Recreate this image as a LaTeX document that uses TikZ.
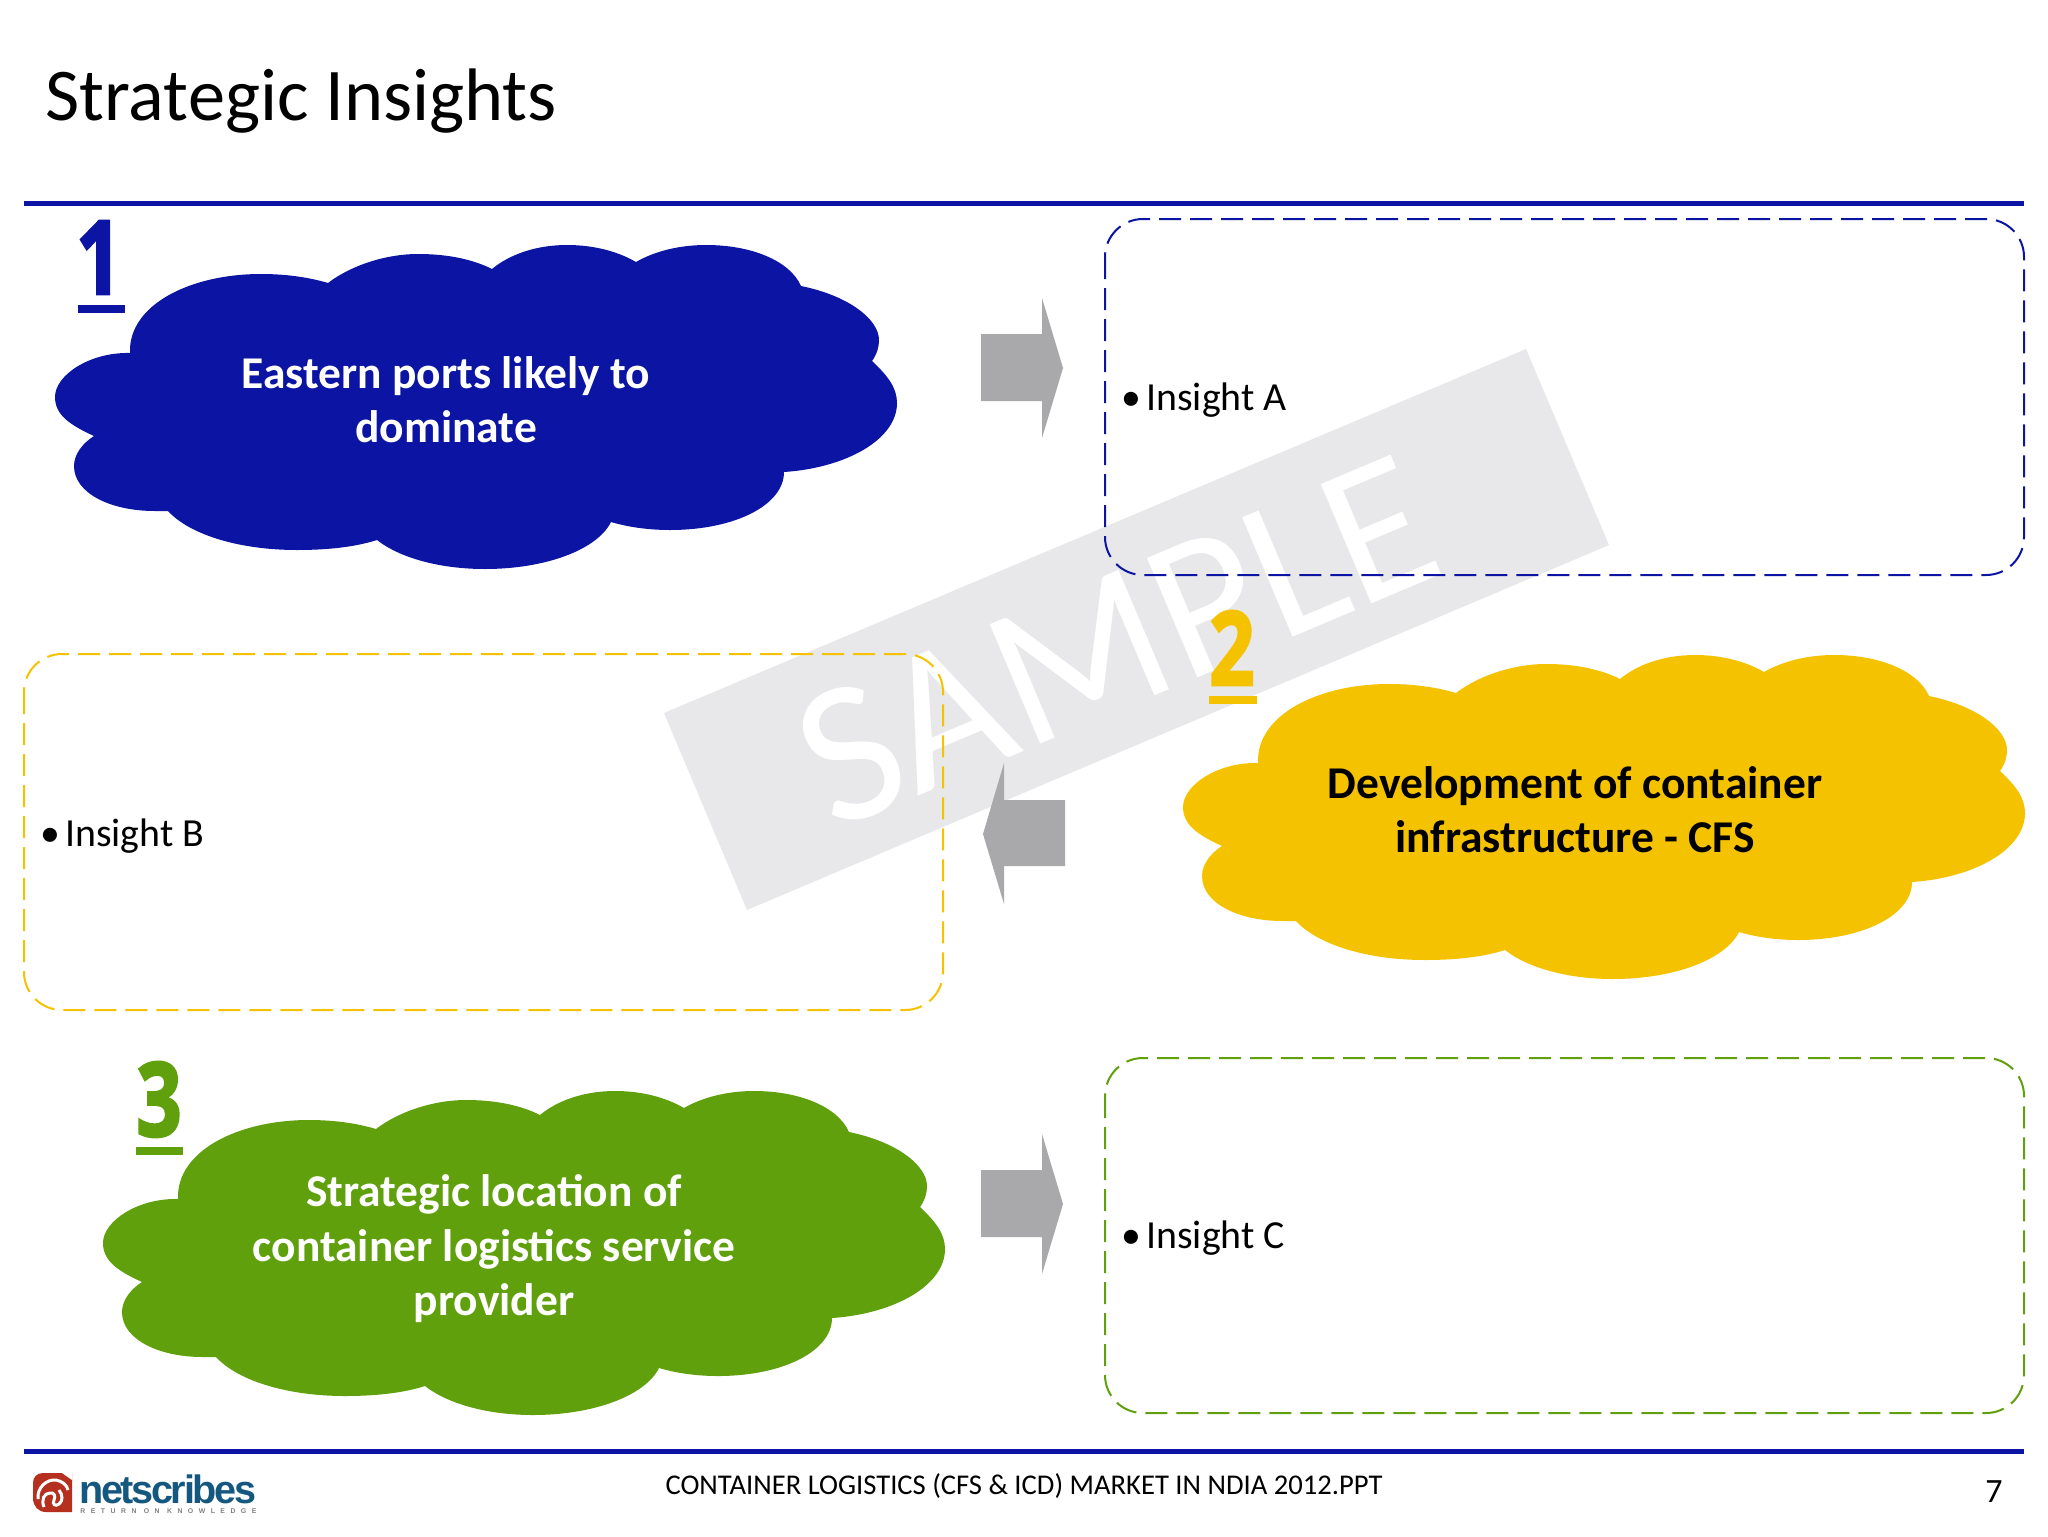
\documentclass[tikz,border=0pt]{standalone}
\usepackage{fontspec}
\usepackage{graphicx}
\setmainfont{Carlito}
\newfontfamily\numfont[FakeBold=2.8]{Open Sans}
\newfontfamily\logofont[LetterSpace=-6]{Liberation Sans}
\newfontfamily\logosubfont[LetterSpace=80]{Liberation Sans}
\definecolor{nsblue}{HTML}{0B14A3}
\definecolor{nsyellow}{HTML}{F5C200}
\definecolor{nsgreen}{HTML}{5FA00C}
\definecolor{nsgray}{HTML}{A9A8AB}
\definecolor{wmgray}{HTML}{E8E8EA}
\definecolor{logored}{HTML}{B5301F}
\definecolor{logoblue}{HTML}{14587F}
\newcommand{\fsz}[1]{\fontsize{#1}{1.2\dimexpr #1pt\relax}\selectfont}
\newcommand{\cloudshape}{(130,353)
 .. controls (128,305) and (190,274) .. (261,274)
 .. controls (285,274) and (308,277) .. (328,283)
 .. controls (350,266) and (385,254) .. (418,254)
 .. controls (447,254) and (472,259) .. (492,269)
 .. controls (510,254) and (537,245) .. (567,245)
 .. controls (593,245) and (617,251) .. (636,262)
 .. controls (655,251) and (680,245) .. (706,245)
 .. controls (752,245) and (790,261) .. (801,286)
 .. controls (850,296) and (879,320) .. (879,340)
 .. controls (879,347) and (877,354) .. (872,361)
 .. controls (888,376) and (897,388) .. (897,403)
 .. controls (897,440) and (845,468) .. (784,472)
 .. controls (784,505) and (735,530) .. (670,530)
 .. controls (648,530) and (628,527) .. (611,522)
 .. controls (597,550) and (545,569) .. (485,569)
 .. controls (440,569) and (400,558) .. (377,540)
 .. controls (355,547) and (328,550) .. (297,550)
 .. controls (240,550) and (190,535) .. (168,511)
 .. controls (163,511) and (159,511) .. (155,511)
 .. controls (110,511) and (74,493) .. (74,466)
 .. controls (74,454) and (83,443) .. (94,436)
 .. controls (70,425) and (55,415) .. (55,397)
 .. controls (55,375) and (90,352) .. (130,353) -- cycle}
\tikzset{
  insightbox/.style={dashed,dash pattern=on 11pt off 4.5pt,line width=1pt,rounded corners=19pt},
  cloudtext/.style={align=center,font=\bfseries\fsz{22.75},inner sep=0pt},
  insighttext/.style={anchor=base west,font=\fsz{19.9},inner sep=0pt},
  numlabel/.style={inner sep=0pt,anchor=base,font=\numfont\bfseries\fsz{55}},
  blockarrow/.style={fill=nsgray,draw=none},
  rulebar/.style={fill=nsblue,draw=none}
}
\begin{document}
\begin{tikzpicture}[x=0.5pt,y=-0.5pt]
\useasboundingbox (0,0) rectangle (2048,1536);
\fill[white] (0,0) rectangle (2048,1536);
% watermark
\fill[wmgray] (1526,349) -- (1609,545) -- (747,910) -- (664,713) -- cycle;
\node[text=white,font=\fsz{101},inner sep=0pt,rotate=22.9] (wm) at (1116,642) {SAMPLE};
% title and rules
\node[anchor=base west,font=\fsz{37.2},inner sep=0pt] (title) at (45,120) {Strategic Insights};
\fill[rulebar] (24,201) rectangle (2024,206);
\fill[rulebar] (24,1449) rectangle (2024,1454);
% clouds
\fill[nsblue] \cloudshape;
\fill[nsyellow,shift={(1128,410)}] \cloudshape;
\fill[nsgreen,shift={(48,846)}] \cloudshape;
\node[cloudtext,text=white] (c1) at (446,399.5) {Eastern ports likely to\\dominate};
\node[cloudtext,text=black] (c2) at (1575,809.5) {Development of container\\infrastructure - CFS};
\node[cloudtext,text=white] (c3) at (494,1248.6) {Strategic location of\\container logistics service\\provider};
% numbers
\node[numlabel,text=nsblue] (n1) at (99,294) {\scalebox{0.72}[0.93]{1}};
\fill[nsblue] (78,305) rectangle (125,313);
\node[numlabel,text=nsyellow] (n2) at (1232,685) {\scalebox{0.72}[0.93]{2}};
\fill[nsyellow] (1209,696) rectangle (1257,704);
\node[numlabel,text=nsgreen] (n3) at (159,1136) {\scalebox{0.72}[0.93]{3}};
\fill[nsgreen] (136,1147) rectangle (183,1155);
% insight boxes
\draw[insightbox,draw=nsblue] (1105,219) rectangle (2024,575);
\draw[insightbox,draw=nsyellow] (24,654) rectangle (943,1010);
\draw[insightbox,draw=nsgreen] (1105,1058) rectangle (2024,1413);
\node[insighttext] (i1) at (1121,410) {\textbullet\hspace{2.6pt}Insight A};
\node[insighttext] (i2) at (40,846) {\textbullet\hspace{2.6pt}Insight B};
\node[insighttext] (i3) at (1121,1248) {\textbullet\hspace{2.6pt}Insight C};
% arrows
\fill[blockarrow] (981,334) -- (1042,334) -- (1042,298) -- (1063,368) -- (1042,438) -- (1042,401) -- (981,401) -- cycle;
\fill[blockarrow] (1065,800) -- (1004,800) -- (1004,763) -- (983,834) -- (1004,904) -- (1004,866) -- (1065,866) -- cycle;
\fill[blockarrow] (981,1170) -- (1042,1170) -- (1042,1134) -- (1063,1204) -- (1042,1274) -- (1042,1237) -- (981,1237) -- cycle;
% footer
\node[font=\fsz{14.3},inner sep=0pt] (foot) at (1024,1486) {CONTAINER LOGISTICS (CFS \& ICD) MARKET IN NDIA 2012.PPT};
\node[font=\fsz{17},inner sep=0pt] (page) at (1994,1492) {7};
% logo
\fill[logored] (43,1473) -- (72,1473) -- (72,1512) -- (46,1512) .. controls (38,1512) and (33,1506) .. (33,1498) -- (33,1483) .. controls (33,1477) and (37,1473) .. (43,1473) -- cycle;
\fill[white] (62,1473) -- (72,1473) -- (72,1480) -- cycle;
\draw[white,line width=1.5pt] (38,1499) .. controls (37,1487) and (47,1479) .. (56,1480) .. controls (62,1481) and (67,1485) .. (68,1490);
\draw[white,line width=1.5pt] (44,1507) .. controls (41,1500) and (44,1493) .. (50,1493) .. controls (54,1492) and (56,1496) .. (54,1500) .. controls (52,1504) and (55,1507) .. (59,1504) .. controls (63,1501) and (63,1495) .. (59,1490);
\node[anchor=base west,inner sep=0pt,text=logoblue] (logo) at (79,1503) {\logofont\bfseries\fsz{19.8}netscribes};
\node[anchor=base west,inner sep=0pt,text=gray] (logosub) at (80,1513) {\resizebox{88pt}{!}{\logosubfont\bfseries RETURN ON KNOWLEDGE}};
\end{tikzpicture}
\end{document}
